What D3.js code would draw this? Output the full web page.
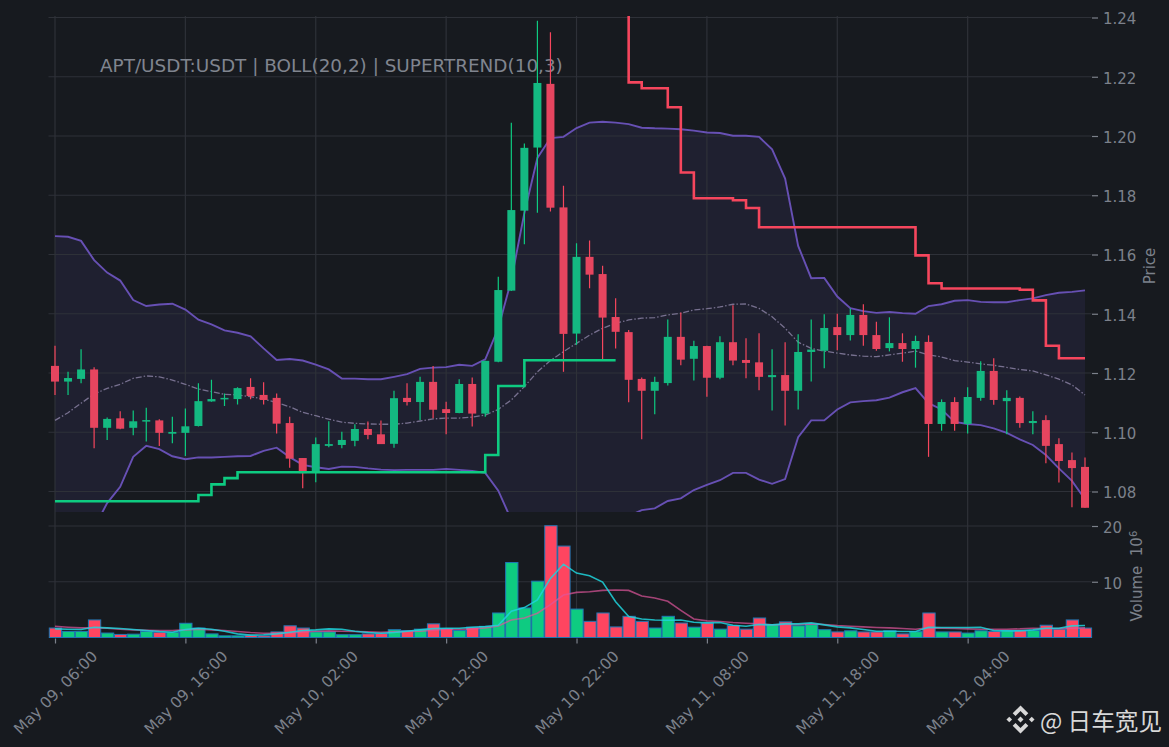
<!DOCTYPE html>
<html>

<head>
    <meta charset="utf-8">
    <script src="https://d3js.org/d3.v7.min.js"></script>
    <style>
        html, body {
            margin: 0;
            padding: 0;
            background: #171a1f;
            overflow: hidden;
        }

        text {
            font-family: "DejaVu Sans", sans-serif;
        }
    </style>
</head>

<body>
    <script>
        var opens = [1.1224,1.1171,1.1180,1.1212,1.1015,1.1047,1.1015,1.1036,1.1040,1.0995,
            1.0998,1.1021,1.1104,1.1112,1.1112,1.1153,1.1126,1.1116,1.1031,1.0913,
            1.0865,1.0954,1.0957,1.0971,1.1011,1.0993,1.0961,1.1116,1.1102,1.1170,
            1.1078,1.1065,1.1163,1.1063,1.1238,1.1478,1.1748,1.1961,1.2176,1.1759,
            1.1333,1.1592,1.1534,1.1389,1.1338,1.1180,1.1140,1.1166,1.1322,1.1248,
            1.1291,1.1184,1.1304,1.1244,1.1236,1.1186,1.1193,1.1140,1.1271,1.1275,
            1.1355,1.1328,1.1396,1.1328,1.1284,1.1301,1.1281,1.1305,1.1028,1.1102,
            1.1028,1.1116,1.1207,1.1105,1.1116,1.1031,1.1041,1.0960,1.0906,1.0883];
        var highs = [1.1292,1.1204,1.1280,1.1219,1.1050,1.1071,1.1073,1.1083,1.1044,1.1052,
            1.1080,1.1165,1.1177,1.1131,1.1152,1.1182,1.1169,1.1131,1.1052,1.0913,
            1.0982,1.1037,1.1002,1.1027,1.1036,1.1040,1.1140,1.1165,1.1187,1.1224,
            1.1103,1.1179,1.1185,1.1241,1.1525,1.2045,1.1975,1.2389,1.2350,1.1832,
            1.1638,1.1647,1.1562,1.1452,1.1345,1.1185,1.1187,1.1381,1.1404,1.1309,
            1.1292,1.1324,1.1429,1.1317,1.1334,1.1280,1.1304,1.1331,1.1381,1.1398,
            1.1400,1.1418,1.1432,1.1373,1.1388,1.1334,1.1326,1.1327,1.1111,1.1118,
            1.1152,1.1240,1.1250,1.1142,1.1121,1.1071,1.1057,1.0980,1.0932,1.0915];
        var lows = [1.1126,1.1126,1.1165,1.0946,1.0974,1.1010,1.0990,1.0969,1.0954,1.0963,
            1.0920,1.1019,1.1103,1.1089,1.1094,1.1111,1.1094,1.0996,1.0880,1.0811,
            1.0831,1.0949,1.0946,1.0953,1.0976,1.0960,1.0948,1.1090,1.1041,1.1047,
            1.0993,1.1064,1.1019,1.1052,1.1236,1.1477,1.1635,1.1741,1.1745,1.1204,
            1.1295,1.1486,1.1246,1.1283,1.1101,1.0976,1.1061,1.1158,1.1226,1.1175,
            1.1120,1.1179,1.1226,1.1182,1.1142,1.1073,1.1023,1.1077,1.1171,1.1216,
            1.1277,1.1310,1.1292,1.1275,1.1273,1.1238,1.1218,1.0917,1.1005,1.1005,
            1.0996,1.1106,1.1093,1.0993,1.1015,1.0993,1.0895,1.0830,1.0747,1.0745];
        var closes = [1.1171,1.1183,1.1212,1.1015,1.1045,1.1012,1.1037,1.1041,1.0998,1.1001,
            1.1020,1.1105,1.1112,1.1116,1.1149,1.1122,1.1109,1.1029,1.0911,1.0862,
            1.0960,1.0960,1.0974,1.1011,1.0991,1.0960,1.1115,1.1102,1.1170,1.1076,
            1.1065,1.1163,1.1063,1.1241,1.1480,1.1750,1.1960,1.2179,1.1758,1.1332,
            1.1592,1.1532,1.1387,1.1339,1.1177,1.1140,1.1170,1.1322,1.1245,1.1291,
            1.1184,1.1304,1.1242,1.1234,1.1187,1.1193,1.1140,1.1271,1.1279,1.1352,
            1.1328,1.1396,1.1328,1.1281,1.1301,1.1281,1.1308,1.1028,1.1102,1.1028,
            1.1119,1.1207,1.1109,1.1116,1.1031,1.1038,1.0954,1.0903,1.0879,1.0745];

        // bollinger bands
        var bollUpper = [1.1662,1.1660,1.1646,1.1581,1.1539,1.1512,1.1446,1.1426,1.1431,1.1434,
            1.1414,1.1380,1.1364,1.1344,1.1336,1.1324,1.1283,1.1244,1.1247,1.1242,
            1.1228,1.1212,1.1181,1.1181,1.1179,1.1179,1.1187,1.1196,1.1214,1.1218,
            1.1220,1.1228,1.1224,1.1246,1.1351,1.1514,1.1740,1.1926,1.1993,1.1997,
            1.2027,1.2045,1.2048,1.2045,1.2040,1.2028,1.2026,1.2025,1.2023,1.2018,
            1.2012,1.2010,1.2001,1.2001,1.1997,1.1955,1.1856,1.1629,1.1520,1.1521,
            1.1458,1.1419,1.1409,1.1403,1.1406,1.1402,1.1400,1.1426,1.1432,1.1444,
            1.1446,1.1440,1.1439,1.1439,1.1446,1.1452,1.1463,1.1471,1.1474,1.1479];
        var bollMid = [1.1040,1.1066,1.1098,1.1129,1.1148,1.1162,1.1182,1.1190,1.1187,1.1176,
            1.1162,1.1146,1.1137,1.1128,1.1126,1.1120,1.1112,1.1100,1.1086,1.1067,
            1.1056,1.1044,1.1034,1.1030,1.1028,1.1027,1.1027,1.1031,1.1038,1.1045,
            1.1048,1.1048,1.1051,1.1058,1.1077,1.1109,1.1154,1.1204,1.1242,1.1272,
            1.1300,1.1328,1.1351,1.1368,1.1379,1.1385,1.1387,1.1396,1.1402,1.1413,
            1.1417,1.1423,1.1432,1.1433,1.1418,1.1390,1.1351,1.1304,1.1283,1.1274,
            1.1267,1.1261,1.1257,1.1255,1.1261,1.1267,1.1274,1.1261,1.1254,1.1242,
            1.1237,1.1231,1.1226,1.1219,1.1212,1.1207,1.1194,1.1179,1.1160,1.1126];
        var bollLower = [1.0418,1.0472,1.0550,1.0677,1.0761,1.0816,1.0917,1.0954,1.0943,1.0919,
            1.0909,1.0915,1.0915,1.0917,1.0919,1.0920,1.0937,1.0948,1.0916,1.0890,
            1.0882,1.0876,1.0884,1.0883,1.0878,1.0874,1.0872,1.0873,1.0873,1.0873,
            1.0876,1.0873,1.0869,1.0863,1.0803,1.0704,1.0569,1.0484,1.0491,1.0549,
            1.0576,1.0613,1.0653,1.0690,1.0717,1.0737,1.0743,1.0768,1.0777,1.0805,
            1.0822,1.0838,1.0863,1.0863,1.0840,1.0826,1.0842,1.0983,1.1040,1.1040,
            1.1077,1.1101,1.1105,1.1108,1.1117,1.1135,1.1149,1.1098,1.1077,1.1035,
            1.1028,1.1024,1.1013,1.0998,1.0976,1.0957,1.0923,1.0878,1.0836,1.0774];

        // supertrend, null where the other side is active
        var n = null;
        var superUp = [1.0767,1.0767,1.0767,1.0767,1.0767,1.0767,1.0767,1.0767,1.0767,1.0767,
            1.0767,1.0788,1.0824,1.0845,1.0865,1.0865,1.0865,1.0865,1.0865,1.0865,
            1.0865,1.0865,1.0865,1.0865,1.0865,1.0865,1.0865,1.0865,1.0865,1.0865,
            1.0865,1.0865,1.0865,1.0923,1.1156,1.1156,1.1243,1.1243,1.1243,1.1243,
            1.1243,1.1243,1.1243,1.1243,n,n,n,n,n,n,
            n,n,n,n,n,n,n,n,n,n,
            n,n,n,n,n,n,n,n,n,n,
            n,n,n,n,n,n,n,n,n,n];
        var superDown = [n,n,n,n,n,n,n,n,n,n,
            n,n,n,n,n,n,n,n,n,n,
            n,n,n,n,n,n,n,n,n,n,
            n,n,n,n,n,n,n,n,n,n,
            n,n,n,1.27,1.2181,1.2161,1.2161,1.2097,1.1877,1.1790,
            1.1790,1.1790,1.1783,1.1757,1.1692,1.1692,1.1692,1.1692,1.1692,1.1692,
            1.1692,1.1692,1.1692,1.1692,1.1692,1.1692,1.1597,1.1503,1.1485,1.1485,
            1.1485,1.1485,1.1485,1.1485,1.1481,1.1445,1.1292,1.1250,1.1250,1.1250];

        // volume in millions
        var volumes = [1.7,1.1,1.1,3.15,0.8,0.55,0.6,1.1,0.95,0.95,
            2.55,1.7,0.65,0.3,0.3,0.4,0.3,1.0,2.1,1.7,
            1.0,1.0,0.5,0.5,0.65,0.7,1.4,1.25,1.5,2.45,
            1.6,1.25,1.85,2.0,4.4,13.45,5.3,10.1,20.05,16.4,
            5.1,2.9,4.4,1.9,3.8,2.9,1.7,3.8,2.6,1.85,
            2.6,1.5,2.15,1.5,3.5,2.3,2.8,2.1,2.3,1.4,
            1.0,1.2,1.0,1.0,1.2,0.65,1.05,4.4,1.0,1.0,
            0.8,1.2,1.1,1.2,1.25,1.25,2.2,1.5,3.15,1.7];
        var volFast = [1.55,1.49,1.43,1.85,1.73,1.61,1.43,1.25,1.07,0.95,
            1.43,1.67,1.49,1.13,0.65,0.42,0.48,0.65,0.95,1.25,
            1.37,1.55,1.49,1.13,0.89,0.77,0.89,1.13,1.37,1.6,
            1.67,1.67,1.85,1.96,2.2,4.7,5.36,6.73,10.6,13.15,
            11.55,11.07,9.94,6.43,3.75,3.33,3.15,3.1,3.15,2.74,
            2.62,2.68,2.2,2.02,2.32,2.26,2.44,2.44,2.62,2.26,
            1.9,1.73,1.43,1.13,1.13,1.07,1.07,1.85,1.79,1.79,
            1.79,1.85,1.25,1.19,1.19,1.37,1.67,1.67,2.08,2.14];
        var volSlow = [2.02,1.85,1.73,1.73,1.67,1.49,1.37,1.31,1.25,1.25,
            1.37,1.49,1.37,1.25,1.07,0.89,0.77,0.77,0.83,1.01,
            1.13,1.19,1.13,1.07,1.01,0.95,1.01,1.07,1.13,1.31,
            1.49,1.49,1.55,1.73,2.08,3.15,3.51,4.35,5.89,7.62,
            8.1,8.21,8.45,8.51,8.45,7.44,7.08,6.49,4.88,3.33,
            2.98,2.86,2.68,2.56,2.44,2.26,2.32,2.32,2.44,2.32,
            2.14,2.02,1.9,1.79,1.73,1.61,1.49,1.73,1.67,1.61,
            1.55,1.49,1.49,1.49,1.55,1.67,1.61,1.61,1.67,1.73];

        var priceTicks = [1.08, 1.10, 1.12, 1.14, 1.16, 1.18, 1.20, 1.22, 1.24];
        var volumeTicks = [10, 20];
        var timeTickIndex = [0, 10, 20, 30, 40, 50, 60, 70];
        var timeTickLabels = ["May 09, 06:00", "May 09, 16:00", "May 10, 02:00", "May 10, 12:00",
            "May 10, 22:00", "May 11, 08:00", "May 11, 18:00", "May 12, 04:00"];

        var title = "APT/USDT:USDT | BOLL(20,2) | SUPERTREND(10,3)";
        var red = "#f6465d", green = "#0ecb81", gridColor = "#2e3138", textColor = "#7c818b";
        // plot box (window.top is read-only, hence the prefix)
        var plotLeft = 48.5, plotRight = 1091.5, plotTop = 16, plotSplit = 512, plotBottom = 637.5;

        var svg = d3.select("body").append("svg")
            .attr("width", 1169)
            .attr("height", 747)
            .style("display", "block");

        var x = d3.scaleLinear().domain([0, 79]).range([55, 1085]);
        var y = d3.scaleLinear().domain([1.08, 1.24]).range([491.5, 17.5]);
        var yVol = d3.scaleLinear().domain([0, 20]).range([plotBottom, 526]);

        var idx = d3.range(opens.length);

        svg.append("clipPath").attr("id", "price-clip")
            .append("rect")
            .attr("x", plotLeft).attr("y", plotTop)
            .attr("width", plotRight - plotLeft).attr("height", plotSplit - plotTop);

        var price = svg.append("g").attr("clip-path", "url(#price-clip)");

        // band
        var area = d3.area()
            .x(function(i) { return x(i); })
            .y0(function(i) { return y(bollLower[i]); })
            .y1(function(i) { return y(bollUpper[i]); });
        price.append("path").datum(idx)
            .attr("d", area)
            .attr("fill", "#6a5acd")
            .attr("fill-opacity", 0.1);

        // grid
        var grid = svg.append("g").attr("stroke", gridColor).attr("stroke-width", 1.2);
        grid.selectAll(".v").data(timeTickIndex).enter().append("line")
            .attr("x1", function(d) { return x(d); })
            .attr("x2", function(d) { return x(d); })
            .attr("y1", plotTop).attr("y2", plotBottom);
        grid.selectAll(".h").data(priceTicks).enter().append("line")
            .attr("x1", plotLeft).attr("x2", plotRight)
            .attr("y1", function(d) { return y(d); })
            .attr("y2", function(d) { return y(d); });
        grid.selectAll(".hv").data(volumeTicks).enter().append("line")
            .attr("x1", plotLeft).attr("x2", plotRight)
            .attr("y1", function(d) { return yVol(d); })
            .attr("y2", function(d) { return yVol(d); });

        svg.append("text")
            .attr("x", 100).attr("y", 71.5)
            .attr("fill", "#80858f")
            .style("font-size", "18.4px")
            .text(title);

        var overlay = svg.append("g").attr("clip-path", "url(#price-clip)");

        function bollLine(values) {
            return d3.line()
                .x(function(i) { return x(i); })
                .y(function(i) { return y(values[i]); })(idx);
        }
        overlay.append("path")
            .attr("d", bollLine(bollUpper))
            .attr("fill", "none").attr("stroke", "#6750b4").attr("stroke-width", 1.9);
        overlay.append("path")
            .attr("d", bollLine(bollLower))
            .attr("fill", "none").attr("stroke", "#6750b4").attr("stroke-width", 1.9);
        overlay.append("path")
            .attr("d", bollLine(bollMid))
            .attr("fill", "none").attr("stroke", "#77708f").attr("stroke-width", 1.3)
            .attr("stroke-dasharray", "6,2,1.5,2");

        // candles
        function candleColor(i) {
            return closes[i] >= opens[i] ? green : red;
        }
        var candles = overlay.selectAll(".candle").data(idx).enter().append("g")
            .attr("class", "candle");
        candles.append("line")
            .attr("x1", function(i) { return x(i); })
            .attr("x2", function(i) { return x(i); })
            .attr("y1", function(i) { return y(highs[i]); })
            .attr("y2", function(i) { return y(lows[i]); })
            .attr("stroke", candleColor)
            .attr("stroke-width", 1.2);
        candles.append("rect")
            .attr("x", function(i) { return x(i) - 4; })
            .attr("width", 8)
            .attr("y", function(i) { return y(Math.max(opens[i], closes[i])); })
            .attr("height", function(i) { return Math.max(1.5, Math.abs(y(opens[i]) - y(closes[i]))); })
            .attr("fill", function(i) { return closes[i] >= opens[i] ? "#14b981" : "#e6455f"; });

        // supertrend
        function stepLine(values) {
            return d3.line()
                .defined(function(i) { return values[i] !== null; })
                .x(function(i) { return x(i); })
                .y(function(i) { return y(values[i]); })
                .curve(d3.curveStepAfter)(idx);
        }
        overlay.append("path")
            .attr("d", stepLine(superUp))
            .attr("fill", "none").attr("stroke", green).attr("stroke-width", 2.6);
        overlay.append("path")
            .attr("d", stepLine(superDown))
            .attr("fill", "none").attr("stroke", red).attr("stroke-width", 2.6);

        // volume
        svg.append("g").selectAll("rect").data(idx).enter().append("rect")
            .attr("x", function(i) { return x(i) - 5.7; })
            .attr("width", 12.3)
            .attr("y", function(i) { return yVol(volumes[i]); })
            .attr("height", function(i) { return yVol(0) - yVol(volumes[i]); })
            .attr("fill", function(i) { return closes[i] >= opens[i] ? "#0ecb81" : "#ff4560"; })
            .attr("stroke", "#1f77b4")
            .attr("stroke-width", 1);

        function volLine(values) {
            return d3.line()
                .x(function(i) { return x(i); })
                .y(function(i) { return yVol(values[i]); })(idx);
        }
        svg.append("path")
            .attr("d", volLine(volSlow))
            .attr("fill", "none").attr("stroke", "#e0559b").attr("stroke-opacity", 0.7).attr("stroke-width", 1.6);
        svg.append("path")
            .attr("d", volLine(volFast))
            .attr("fill", "none").attr("stroke", "#1fd4dc").attr("stroke-opacity", 0.85).attr("stroke-width", 1.6);

        // axes
        function styleAxis(g) {
            g.select(".domain").remove();
            g.selectAll(".tick line").attr("stroke", textColor).attr("stroke-width", 1.2);
            g.selectAll(".tick text").attr("fill", textColor).attr("dy", "0.42em").style("font-size", "15px");
        }
        svg.append("g")
            .attr("transform", "translate(" + (plotRight + 0.5) + ",0)")
            .call(d3.axisRight(y).tickValues(priceTicks).tickFormat(d3.format(".2f")).tickSize(6).tickPadding(5))
            .call(styleAxis);
        svg.append("g")
            .attr("transform", "translate(" + (plotRight + 0.5) + ",0)")
            .call(d3.axisRight(yVol).tickValues(volumeTicks).tickSize(6).tickPadding(5))
            .call(styleAxis);

        var xAxis = svg.append("g")
            .attr("transform", "translate(0," + (plotBottom + 1) + ")")
            .call(d3.axisBottom(x).tickValues(timeTickIndex)
                .tickFormat(function(d, i) { return timeTickLabels[i]; }).tickSize(5))
            .call(styleAxis);
        xAxis.selectAll(".tick text")
            .attr("y", 0).attr("dy", "0.35em")
            .attr("text-anchor", "middle")
            .style("font-size", "15.4px")
            .attr("transform", "translate(0,54) rotate(-45)");

        svg.append("text")
            .attr("transform", "translate(1155,266) rotate(-90)")
            .attr("text-anchor", "middle")
            .attr("fill", textColor)
            .style("font-size", "15px")
            .text("Price");

        var volTitle = svg.append("text")
            .attr("transform", "translate(1142,621.5) rotate(-90)")
            .attr("fill", textColor)
            .style("font-size", "15px");
        volTitle.append("tspan").text("Volume\u00a0\u00a010");
        volTitle.append("tspan").attr("dy", -5).style("font-size", "10px").text("6");

        // watermark
        var mark = svg.append("g").attr("fill", "#d8d8d8").attr("transform", "translate(1020.5,719.5) scale(1.04)");
        mark.selectAll("path").data([
            "M0,-13.5 L7.5,-6 L4.8,-3.3 L0,-8.1 L-4.8,-3.3 L-7.5,-6 Z",
            "M0,13.5 L7.5,6 L4.8,3.3 L0,8.1 L-4.8,3.3 L-7.5,6 Z",
            "M-13.5,0 L-10.8,-2.7 L-8.1,0 L-10.8,2.7 Z",
            "M13.5,0 L10.8,-2.7 L8.1,0 L10.8,2.7 Z",
            "M0,-2.9 L2.9,0 L0,2.9 L-2.9,0 Z"
        ]).enter().append("path").attr("d", function(d) { return d; });

        svg.append("text")
            .attr("x", 1040).attr("y", 729.5)
            .attr("fill", "#d8d8d8")
            .style("font-family", "'Noto Sans CJK SC', 'DejaVu Sans', sans-serif")
            .style("font-size", "23.6px")
            .text("@ 日车宽见");
    </script>
</body>

</html>
